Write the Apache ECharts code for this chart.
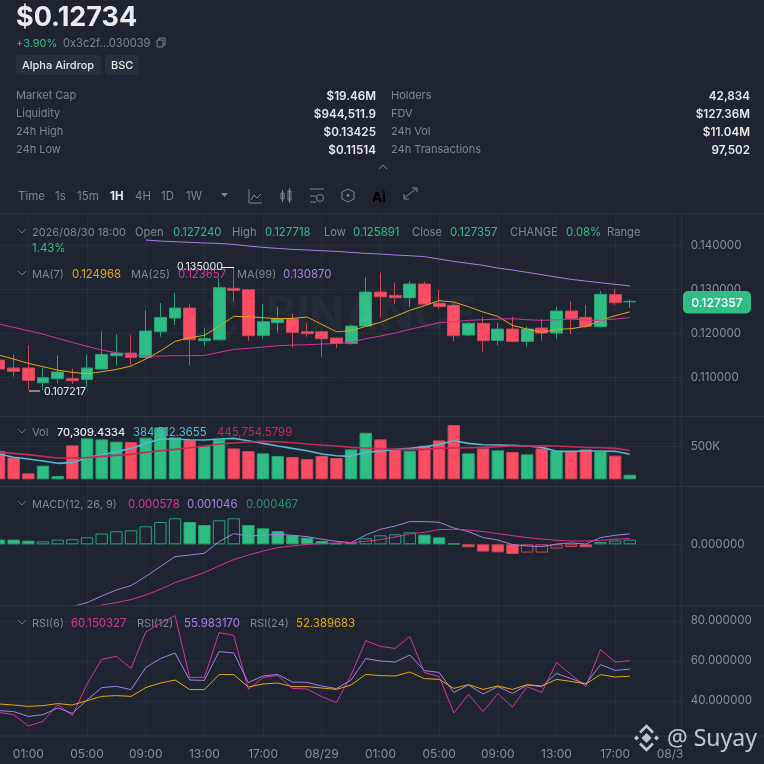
<!DOCTYPE html>
<html>
<head>
<meta charset="utf-8">
<style>html,body{margin:0;padding:0;background:#1e2530}#c{width:764px;height:764px}</style>
<script src="https://cdn.jsdelivr.net/npm/echarts@6/dist/echarts.min.js"></script>
</head>
<body>
<div id="c"></div>
<script>
const tickLabels = ['','','01:00','','','','05:00','','','','09:00','','','','13:00','','','','17:00','','','','08/29','','','','01:00','','','','05:00','','','','09:00','','','','13:00','','','','17:00','','','','08/30'];
// [open, close, low, high]
const candles = [
[.11401,.11197,.11098,.11515],[.11220,.11144,.11023,.11530],[.11220,.10940,.107217,.11735],[.10886,.11000,.10722,.11227],
[.10977,.11129,.10871,.11507],[.10977,.10932,.10856,.11205],[.10962,.11220,.10796,.11530],[.11197,.11530,.11174,.12053],
[.11500,.11560,.11273,.11985],[.11560,.11462,.11280,.11970],[.11462,.12061,.11440,.12538],[.12046,.12371,.11932,.12697],
[.12356,.12583,.12197,.12932],[.12583,.11864,.11273,.12667],[.11841,.11886,.11720,.12136],[.11864,.13045,.11841,.13258],
[.13030,.12985,.12727,.13500],[.13000,.11955,.11841,.13000],[.11962,.12273,.11886,.12674],[.12250,.12341,.12030,.12614],
[.12333,.12030,.11682,.12462],[.12045,.12000,.11932,.12250],[.12045,.11886,.11477,.12068],[.11901,.11780,.11674,.11917],
[.11780,.12174,.11750,.12205],[.12174,.12947,.12159,.13280],[.12947,.12841,.12364,.13386],[.12871,.12818,.12674,.13159],
[.12818,.13129,.12614,.13197],[.13129,.12674,.12659,.13182],[.12689,.12621,.12560,.12992],[.12644,.11955,.11833,.12689],
[.11970,.12235,.11947,.12273],[.12235,.11841,.11583,.12386],[.11849,.12106,.11735,.12250],[.12106,.11826,.11795,.12386],
[.11826,.12106,.11705,.12167],[.12129,.12015,.11841,.12333],[.12015,.12515,.11886,.12614],[.12515,.12341,.11992,.12727],
[.12371,.12167,.12121,.12652],[.12159,.12894,.12144,.12970],[.12886,.12705,.12652,.13015],[.12724,.127357,.125891,.127718]];
const ma7 = [.11515,.11424,.11326,.11250,.11174,.11121,.11091,.11136,.11189,.11265,.11424,.11606,.11826,.11909,.11962,.12167,.12394,.12386,.12364,.12341,.12348,.12379,.12212,.12045,.12068,.12167,.12258,.12394,.12530,.12636,.12750,.12720,.12614,.12492,.12394,.12189,.12106,.12030,.12098,.12114,.12167,.12303,.12409,.124968];
const ma25 = [.12220,.12144,.12068,.11992,.11894,.11803,.11712,.11629,.11568,.11523,.11492,.11492,.11500,.11500,.11507,.11576,.11644,.11667,.11697,.11727,.11742,.11750,.11765,.11780,.11803,.11886,.11947,.12015,.12098,.12174,.12250,.12273,.12303,.12318,.12333,.12341,.12318,.12303,.12318,.12333,.12311,.12303,.12333,.123657];
const ma99 = [null,null,null,null,null,null,null,null,null,null,.14129,.14106,.14091,.14076,.14061,.14053,.14030,.13992,.13962,.13939,.13917,.13902,.13886,.13871,.13848,.13826,.13811,.13788,.13773,.13750,.13697,.13644,.13598,.13553,.13492,.13447,.13394,.13341,.13288,.13235,.13197,.13159,.13121,.13087];
const volumes = [433700,336700,91800,209000,51000,520000,627500,612000,576500,571000,638000,796000,643000,602000,510000,612000,474500,433700,398000,357000,342000,311000,357000,326500,459000,714000,612000,464000,439000,515000,597000,832000,398000,474500,444000,418000,383000,474500,439000,428500,459000,428500,362000,70309.4334];
const volMaFast = [388000,337000,311000,281000,245000,255000,332000,372000,423000,474000,551000,617000,617000,607000,602000,617000,628000,592000,551000,510000,474000,439000,388000,362000,352000,418000,429000,459000,474000,500000,536000,592000,551000,531000,526000,520000,510000,490000,429000,429000,434000,434000,429000,384512.3655];
const volMaSlow = [413000,398000,378000,352000,327000,327000,332000,352000,367000,383000,413000,439000,459000,485000,510000,541000,556000,571000,582000,577000,561000,541000,525000,510000,490000,480000,469000,459000,459000,459000,474000,480000,485000,490000,500000,510000,510000,515000,510000,500000,490000,485000,474000,445754.5799];
const macdHist = [.000467,.000467,.000367,.0003,.000467,.0005,.0007,.00107,.0013,.0014,.0018,.00223,.0026,.00223,.00193,.0024,.0026,.00193,.0016,.00133,.0009,.00067,.00033,.0001,.00013,.0006,.0009,.001,.0012,.00097,.0007,.00007,-.0003,-.00073,-.0008,-.00097,-.00083,-.00083,-.00043,-.00027,-.0003,.00023,.00037,.000467];
const histHollow = [3,4,5,6,7,8,9,10,11,12,15,16,25,26,27,28,36,37,38,39,41,42,43];
const macdLine = [null,null,null,null,-.00673,-.00623,-.00583,-.00517,-.00457,-.00413,-.00323,-.00223,-.00123,-.00107,-.0009,.00027,.00107,.00083,.0009,.001,.0009,.00077,.0005,.0003,.00017,.00093,.0015,.00183,.00227,.00227,.0022,.00163,.00127,.00067,.00043,-.00003,-.00017,-.00023,.00003,.00013,.00003,.00067,.0009,.001046];
const macdSignal = [null,null,null,null,null,null,-.00657,-.00607,-.00583,-.00553,-.00507,-.0045,-.00383,-.00333,-.00283,-.00217,-.00153,-.00107,-.00067,-.00033,-.00017,0,.00007,.00013,.00017,.0003,.00047,.00073,.00103,.0012,.00147,.0015,.00143,.00127,.00107,.00087,.00067,.00053,.0004,.00033,.00033,.0004,.0005,.000578];
const rsi6 = [34.3,33.2,27.5,29.8,38.2,32.8,48.5,60.8,62.3,56.3,74.5,78.8,82.7,51.8,51.8,74.2,72.8,45.8,51.8,52.7,46.3,46,42.2,39.2,53,70.2,67.3,66.3,72.3,54.2,52.3,34,43.3,34.7,43.7,37,47.2,44.3,59.2,53.2,47.2,65.7,59.5,60.15];
const rsi12 = [35.2,34.7,32.3,33.2,36.5,33.8,40.5,46.7,47.3,45.7,56.7,61.2,64,50.5,50.3,64.7,64,49.2,52.5,53.3,49.5,49.3,47.5,46.2,50.5,61.2,60,59.5,63,55.2,54.3,44.3,48,43.5,47.2,43.8,48,47.2,53.8,51.2,48.5,58.2,55.3,55.98];
const rsi24 = [38.5,38,37.3,37.7,38.7,38,40.2,42.3,42.7,42.3,46.7,49,50.5,45.7,45.7,53.2,53.2,47,48.5,49,47.2,47.2,46.5,45.8,48,53.3,52.7,52.5,54.5,51.2,50.8,46.3,48.2,45.8,47.5,45.8,48.2,47.5,50.8,49.8,48.5,53.2,52,52.39];

const priceTicks = [.11,.12,.13,.14];
const volTicks = [500000];
const macdTicks = [0];
const rsiTicks = [40,60,80];

const GREEN='#2EBD85', RED='#FC4C63', BG='#1e2530', GRID='rgba(255,255,255,0.045)', SEP='#2b323e', MUTED='#7d8592', AXIS='#858c99';
const YEL='#E3A812', PINK='#D8329E', PUR='#A57FE8', FONT='Inter, "Noto Sans", sans-serif';

const elements=[];
function T(x,y,text,fill,size,weight,align,family){elements.push({type:'text',x:x,y:y+2,z:50,silent:true,style:{text:text,fill:fill||MUTED,font:(weight||400)+' '+(size||11.4)+'px '+(family||FONT),align:align||'left',verticalAlign:'middle'}});}
function L(x1,y1,x2,y2,c,w,z){elements.push({type:'line',z:z||40,silent:true,shape:{x1,y1,x2,y2},style:{stroke:c,lineWidth:w||1}});}
function P(pts,c,w,z){elements.push({type:'polyline',z:z||50,silent:true,shape:{points:pts},style:{stroke:c,lineWidth:w||1.2,fill:null}});}
function R(x,y,w,h,fill,r,z,stroke){elements.push({type:'rect',z:z||45,silent:true,shape:{x,y,width:w,height:h,r:r||0},style:{fill:fill,stroke:stroke||null,lineWidth:1}});}
function chev(x,y){P([[x-4,y-2],[x,y+2],[x+4,y-2]],'#6b7380',1);}

// header
T(16,16,'$0.12734','#EAECEF',27,700);
T(16,42,'+3.90%',GREEN,11);
T(63,42,'0x3c2f...030039',MUTED,11.1);
R(159,38,6,7,null,0,50,MUTED);R(157,40,6,7,BG,0,51,MUTED);
R(16,55,85,20,'#2a303b',4);T(22,64,'Alpha Airdrop','#E6E8EB',11,500);
R(105,55,34,20,'#2a303b',4);T(111,64,'BSC','#E6E8EB',11,500);
[[94,'Market Cap','$19.46M','Holders','42,834'],[112,'Liquidity','$944,511.9','FDV','$127.36M'],[130,'24h High','$0.13425','24h Vol','$11.04M'],[148,'24h Low','$0.11514','24h Transactions','97,502']].forEach(r=>{
  T(16,r[0],r[1],MUTED,11);T(376,r[0],r[2],'#E6E8EB',11.7,600,'right');T(391,r[0],r[3],MUTED,11);T(750,r[0],r[4],'#E6E8EB',11.7,600,'right');
});
P([[379,169],[383,165],[387,169]],MUTED,1);
// toolbar
[['Time',18],['1s',55],['15m',77],['4H',135],['1D',161],['1W',186]].forEach(a=>T(a[1],195,a[0],MUTED,11.5));
T(110,195,'1H','#E6E8EB',11.5,700);
elements.push({type:'polygon',z:50,silent:true,shape:{points:[[221,193],[228,193],[224.5,197]]},style:{fill:MUTED}});
P([[249,189],[249,203],[262,203]],MUTED,1);P([[251,200],[254,195],[257,198],[261,194]],MUTED,1);
R(281,193,3,6,null,0,50,MUTED);R(288,191,3,9,null,0,50,MUTED);L(282.5,190,282.5,202,MUTED,1,50);L(289.5,188,289.5,203,MUTED,1,50);
L(310,189,324,189,MUTED,1,50);L(310,196,316,196,MUTED,1,50);L(310,202,316,202,MUTED,1,50);elements.push({type:'circle',z:50,silent:true,shape:{cx:320,cy:198,r:3.5},style:{fill:null,stroke:MUTED,lineWidth:1}});
elements.push({type:'polygon',z:50,silent:true,shape:{points:[[348,189],[354,192],[354,199],[348,202],[342,199],[342,192]]},style:{fill:null,stroke:MUTED,lineWidth:1}});
elements.push({type:'circle',z:50,silent:true,shape:{cx:348,cy:195.5,r:1.4},style:{fill:MUTED}});
elements.push({type:'text',x:372,y:198,z:50,silent:true,style:{text:'Ai',font:'800 13px '+FONT,verticalAlign:'middle',fill:new echarts.graphic.LinearGradient(0,0,1,0,[{offset:0,color:'#5b8cf0'},{offset:1,color:'#b46ef0'}])}});
L(404,198,416,189,MUTED,1,50);P([[412,188],[417,188],[417,192]],MUTED,1);P([[404,194],[404,199],[409,199]],MUTED,1);

// separators and side rule
[214,416.5,486.5,606,736].forEach(y=>L(0,y,764,y,SEP,1.5,40));

// legends
chev(22,231);T(32,231,'2026/08/30 18:00',MUTED,11);
[['Open',135],['High',232],['Low',324],['Close',412],['CHANGE',510],['Range',607]].forEach(a=>T(a[1],231,a[0],MUTED,11.2));
[['0.127240',173],['0.127718',265],['0.125891',353],['0.127357',450],['0.08%',566]].forEach(a=>T(a[1],231,a[0],GREEN));
T(32,247,'1.43%',GREEN);
chev(22,273);T(32,273,'MA(7)',MUTED,11);T(72,273,'0.124968',YEL);T(131,273,'MA(25)',MUTED,11);T(178,273,'0.123657',PINK);T(237,273,'MA(99)',MUTED,11);T(283,273,'0.130870',PUR);
chev(22,431);T(32,431,'Vol',MUTED,11);T(57,431,'70,309.4334','#E6E8EB',11,500);T(133,431,'384,512.3655','#56B6CF');T(217,431,'445,754.5799','#C42B58');
chev(22,503);T(32,503,'MACD(12, 26, 9)',MUTED,11);T(128,503,'0.000578',PINK);T(187,503,'0.001046',PUR);T(246,503,'0.000467','#23936A');
chev(22,622);T(32,622,'RSI(6)',MUTED,11);T(71,622,'60.150327',PINK);T(137,622,'RSI(12)',MUTED,11);T(184,622,'55.983170',PUR);T(250,622,'RSI(24)',MUTED,11);T(296,622,'52.389683',YEL);

// high / low annotations
T(177,264.5,'0.135000','#EAECEF',10.6);L(222,267.5,234,267.5,'#EAECEF',1,50);
T(44,389.5,'0.107217','#EAECEF',10.6);L(29,391,40,391,'#EAECEF',1,50);

// price tag
R(683,291,68,22.5,'#2EBD85',5,60);
elements.push({type:'text',x:717,y:303,z:61,silent:true,style:{text:'0.127357',fill:'#fff',font:'500 12.2px '+FONT,align:'center',verticalAlign:'middle'}});

// clipped date label cover
R(682.5,742,40,20,BG,0,30);

// BINANCE faint watermark
const FW='rgba(255,255,255,0.035)';
T(266,314,'BINANCE',FW,46,700);
elements.push({type:'polygon',z:2,silent:true,shape:{points:[[222,308],[230,316],[222,324],[214,316]]},style:{fill:FW}});
P([[208,306],[222,292],[236,306]],FW,6,2);P([[208,326],[222,340],[236,326]],FW,6,2);
// credit watermark
const WM='rgba(222,226,231,0.85)';
T(667,737,'@ Suyay',WM,23,400,'left','"Noto Sans", sans-serif');
[[646.5,738,5],[636.5,738,2.5],[656.5,738,2.5]].forEach(d=>elements.push({type:'polygon',z:52,silent:true,shape:{points:[[d[0],d[1]-d[2]],[d[0]+d[2],d[1]],[d[0],d[1]+d[2]],[d[0]-d[2],d[1]]]},style:{fill:WM}}));
P([[640,732.5],[646.5,726],[653,732.5]],WM,2.6,52);P([[640,743.5],[646.5,750],[653,743.5]],WM,2.6,52);

const grids=[{top:214.5,h:201.5},{top:417,h:69},{top:487,h:119},{top:606.5,h:129.5}];
const showTick=i=>tickLabels[i]!=='';
const xAxis=grids.map((g,i)=>({type:'category',gridIndex:i,data:tickLabels,boundaryGap:true,
  axisLine:{show:false,onZero:false},axisTick:{show:false,alignWithLabel:true,interval:showTick},
  splitLine:{show:true,alignWithLabel:true,interval:showTick,lineStyle:{color:GRID,width:1}},
  axisLabel:i===3?{show:true,interval:0,color:AXIS,fontSize:12,fontFamily:FONT,margin:12,hideOverlap:false}:{show:false}}));
const yCfg=[[.1013,.14709,priceTicks,v=>v.toFixed(6)],[-102800,955600,volTicks,v=>(v/1000)+'K'],[-.00617,.00573,macdTicks,v=>v.toFixed(6)],[22.5,87.25,rsiTicks,v=>v.toFixed(6)]];
const yAxis=yCfg.map((c,i)=>({type:'value',gridIndex:i,position:'right',scale:true,min:c[0],max:c[1],
  axisLine:{show:true,lineStyle:{color:SEP,width:1}},axisTick:{show:false,customValues:c[2]},
  splitLine:{show:true,lineStyle:{color:GRID,width:1}},
  axisLabel:{show:true,customValues:c[2],formatter:c[3],color:AXIS,fontSize:11.6,fontFamily:FONT,margin:9.5,padding:[3,0,0,0],showMinLabel:true,showMaxLabel:true}}));
const line=(name,data,g,color,width)=>({name,type:'line',xAxisIndex:g,yAxisIndex:g,data,showSymbol:false,symbol:'none',smooth:false,connectNulls:false,lineStyle:{color,width:width||1},z:5,animation:false});
const option={
  animation:false,backgroundColor:BG,
  grid:grids.map(g=>({left:-8.33,width:689.5,top:g.top,height:g.h,containLabel:false,outerBoundsMode:'none'})),
  xAxis,yAxis,
  series:[
    {name:'Price',type:'candlestick',xAxisIndex:0,yAxisIndex:0,data:candles,barWidth:12.4,z:3,itemStyle:{color:GREEN,color0:RED,borderColor:'#27a275',borderColor0:'#c9475a',borderWidth:1}},
    line('MA(7)',ma7,0,YEL),line('MA(25)',ma25,0,PINK),line('MA(99)',ma99,0,PUR),
    {name:'Vol',type:'bar',xAxisIndex:1,yAxisIndex:1,barWidth:12.4,z:3,data:volumes.map((v,i)=>({value:v,itemStyle:{color:candles[i][1]>=candles[i][0]?GREEN:RED,borderColor:candles[i][1]>=candles[i][0]?'#27a275':'#c9475a',borderWidth:1}}))},
    line('Vol MA fast',volMaFast,1,'#56B6CF',1.6),line('Vol MA slow',volMaSlow,1,'#C42B58',1.6),
    {name:'MACD',type:'bar',xAxisIndex:2,yAxisIndex:2,barWidth:12.4,z:3,data:macdHist.map((v,i)=>{const c=v>=0?GREEN:RED;const b=v>=0?'#27a275':'#c9475a';return histHollow.includes(i)?{value:v,itemStyle:{color:'rgba(0,0,0,0)',borderColor:b,borderWidth:1}}:{value:v,itemStyle:{color:c,borderColor:b,borderWidth:1}};})},
    line('MACD line',macdLine,2,PUR),line('Signal',macdSignal,2,PINK),
    line('RSI(6)',rsi6,3,PINK),line('RSI(12)',rsi12,3,PUR),line('RSI(24)',rsi24,3,YEL)
  ],
  graphic:{elements}
};
echarts.init(document.getElementById('c'),null,{width:764,height:764}).setOption(option);
</script>
</body>
</html>
